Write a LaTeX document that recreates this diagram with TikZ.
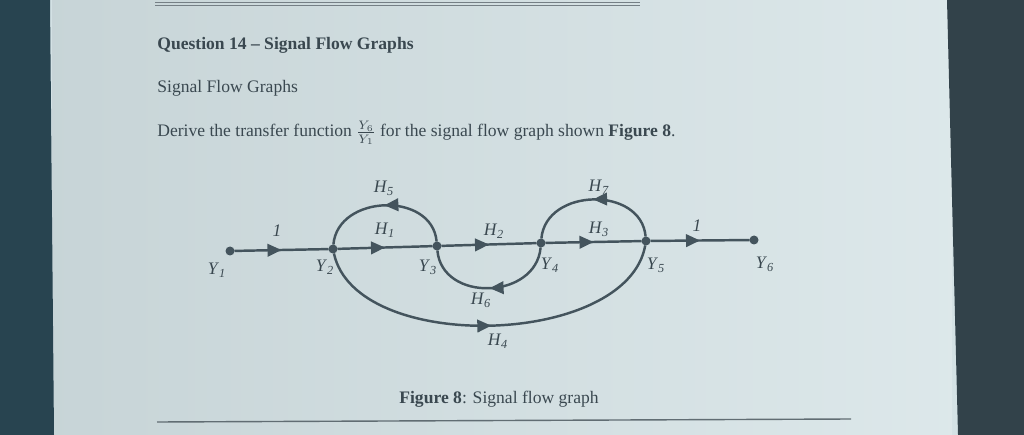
\documentclass[tikz,border=0pt]{standalone}
\usepackage{fontspec}
\setmainfont{Liberation Serif}
\usepackage{xcolor}
\usepackage{tikz}
\usetikzlibrary{arrows.meta,decorations.markings}
\definecolor{paper}{RGB}{212,226,229}
\definecolor{ink}{RGB}{58,72,80}
\definecolor{wire}{RGB}{68,84,93}
\definecolor{deskL}{RGB}{40,68,80}
\definecolor{deskR}{RGB}{50,66,74}
\newcommand{\sig}[2]{\textit{#1}\textsubscript{\textit{#2}}}

\begin{document}
\begin{tikzpicture}
    [
    x=0.02cm, y=-0.02cm,
    every node/.style = {text=ink, font=\fontsize{10}{12}\selectfont},
    txt/.style = {anchor=base west, inner sep=0pt},
    dot/.style = {minimum width=0.18cm,inner sep=0pt,line width=0pt,fill=wire,circle},
    branch/.style = {wire, line width=1.4pt,
        decoration={markings, mark=at position #1 with {\arrow{Triangle[length=2.8mm,width=2.5mm]}}},
        postaction={decorate}},
    branch/.default = 0.5,
    lbl/.style = {inner sep=1pt}
    ]
\useasboundingbox (0,0) rectangle (1024,435);
\fill[paper] (0,0) rectangle (1024,435);
\shade[left color=paper!94!black, right color=paper!80!white] (52,0) rectangle (952,435);
\fill[deskL] (0,0) -- (50,0) -- (54,435) -- (0,435) -- cycle;
\fill[deskR] (947,0) -- (1024,0) -- (1024,435) -- (958,435) -- cycle;

% page rules
\draw[ink!70, line width=0.5pt] (155,2) -- (640,2);
\draw[ink!70, line width=0.5pt] (155,5) -- (640,5);
\draw[ink!80, line width=0.8pt] (157,422) -- (851,419);

% text
\node[txt] (title) at (157,50) {\textbf{Question 14 -- Signal Flow Graphs}};
\node[txt] (sub) at (157,93) {Signal Flow Graphs};
\node[txt] (task) at (157,137)
    {Derive the transfer function $\frac{Y_6}{Y_1}$ for the signal flow graph shown \textbf{Figure 8}.};
\node[anchor=base] (cap) at (499,403) {\textbf{Figure 8}: Signal flow graph};

% signal flow graph
\node[dot] (Y1) at (230,251) {};
\node[dot] (Y2) at (333,249) {};
\node[dot] (Y3) at (437,246) {};
\node[dot] (Y4) at (541,243) {};
\node[dot] (Y5) at (646,241) {};
\node[dot] (Y6) at (754,240) {};

\draw[branch] (Y1) -- (Y2);
\draw[branch] (Y2) -- (Y3);
\draw[branch] (Y3) -- (Y4);
\draw[branch] (Y4) -- (Y5);
\draw[branch] (Y5) -- (Y6);
\draw[branch] (Y3) to[out=95,in=85,looseness=1.25] (Y2);
\draw[branch] (Y5) to[out=95,in=85,looseness=1.25] (Y4);
\draw[branch] (Y4) to[out=-95,in=-85,looseness=1.3] (Y3);
\draw[branch] (Y2) to[out=-78,in=-100,looseness=0.85] (Y5);

\node[lbl] (g12) at (277,231) {\textit{1}};
\node[lbl] (g23) at (385,230) {\sig{H}{1}};
\node[lbl] (g34) at (494,231) {\sig{H}{2}};
\node[lbl] (g45) at (599,229) {\sig{H}{3}};
\node[lbl] (g56) at (697,226) {\textit{1}};
\node[lbl] (g32) at (384,188) {\sig{H}{5}};
\node[lbl] (g54) at (599,187) {\sig{H}{7}};
\node[lbl] (g43) at (481,300) {\sig{H}{6}};
\node[lbl] (g25) at (498,341) {\sig{H}{4}};

\node[lbl] (nY1) at (217,270) {\sig{Y}{1}};
\node[lbl] (nY2) at (325,267) {\sig{Y}{2}};
\node[lbl] (nY3) at (428,267) {\sig{Y}{3}};
\node[lbl] (nY4) at (550,265) {\sig{Y}{4}};
\node[lbl] (nY5) at (656,265) {\sig{Y}{5}};
\node[lbl] (nY6) at (765,264) {\sig{Y}{6}};

\end{tikzpicture}
\end{document}
